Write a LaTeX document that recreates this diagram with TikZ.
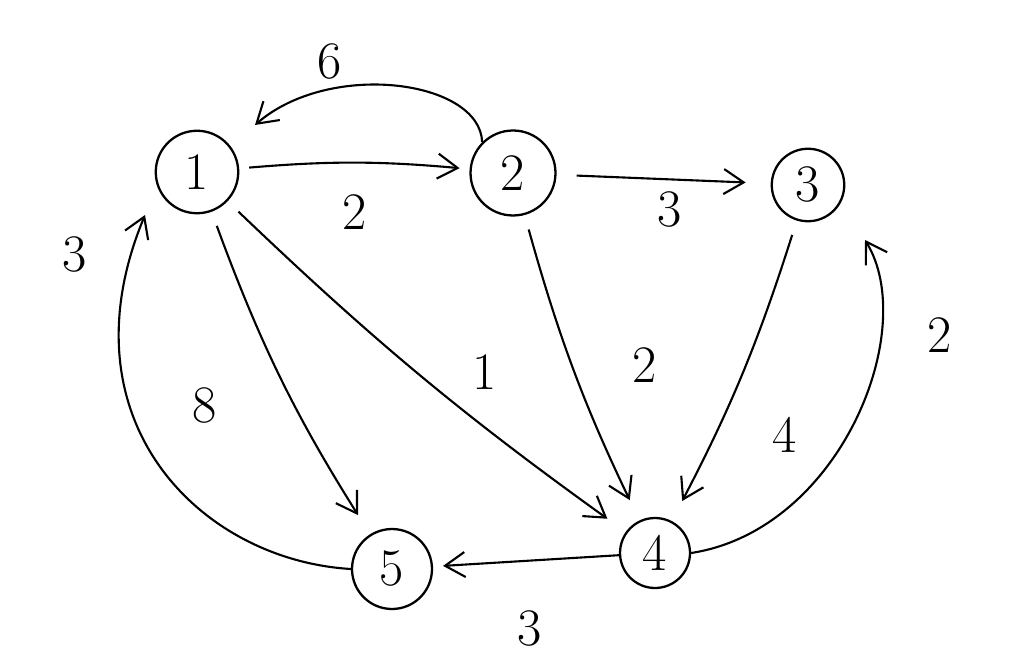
\documentclass[tikz,border=0pt]{standalone}
\usetikzlibrary{arrows.meta}
\begin{document}
\begin{tikzpicture}[x=0.02cm,y=-0.02cm,
  vtx/.style={draw,circle,line width=1.3pt,minimum size=1.55cm,inner sep=0pt,font=\fontsize{30}{32}\selectfont},
  edge/.style={line width=1.2pt,-{Straight Barb[length=4mm,width=5mm]}},
  gap/.style={shorten >=0.45cm,shorten <=0.3cm},
  wt/.style={font=\fontsize{30}{32}\selectfont}]
\useasboundingbox (0,0) rectangle (1026,668);
\node[vtx,minimum size=1.65cm] (n1) at (197,172) {1};
\node[vtx,minimum size=1.7cm] (n2) at (513,173) {2};
\node[vtx,minimum size=1.45cm] (n3) at (808,185) {3};
\node[vtx,minimum size=1.4cm] (n4) at (655,553) {4};
\node[vtx,minimum size=1.6cm] (n5) at (392,569) {5};
\draw[edge,shorten <=0.2cm,shorten >=0.2cm] (n1) to[bend left=5] (n2);
\draw[edge] (n2.north west) .. controls (480,80) and (330,60) .. (255,125);
\draw[edge,shorten <=0.4cm,shorten >=0.5cm] (n2) -- (n3);
\draw[edge,gap] (n1) to[bend left=-4] (n4);
\draw[edge,gap] (n2) to[bend left=-5] (n4);
\draw[edge,gap] (n3) to[bend left=5] (n4);
\draw[edge] (n4.east) .. controls (840,530) and (920,330) .. (865,240);
\draw[edge,gap] (n1) to[bend left=-6] (n5);
\draw[edge] (n5.west) .. controls (200,560) and (60,420) .. (145,215);
\draw[edge,shorten >=0.2cm] (n4) -- (n5);
\node[wt] (w12) at (355,212) {2};
\node[wt] (w21) at (330,62) {6};
\node[wt] (w23) at (670,210) {3};
\node[wt] (w14) at (485,372) {1};
\node[wt] (w24) at (645,365) {2};
\node[wt] (w34) at (785,435) {4};
\node[wt] (w43) at (940,335) {2};
\node[wt] (w15) at (205,405) {8};
\node[wt] (w51) at (75,255) {3};
\node[wt] (w45) at (530,628) {3};
\end{tikzpicture}
\end{document}
